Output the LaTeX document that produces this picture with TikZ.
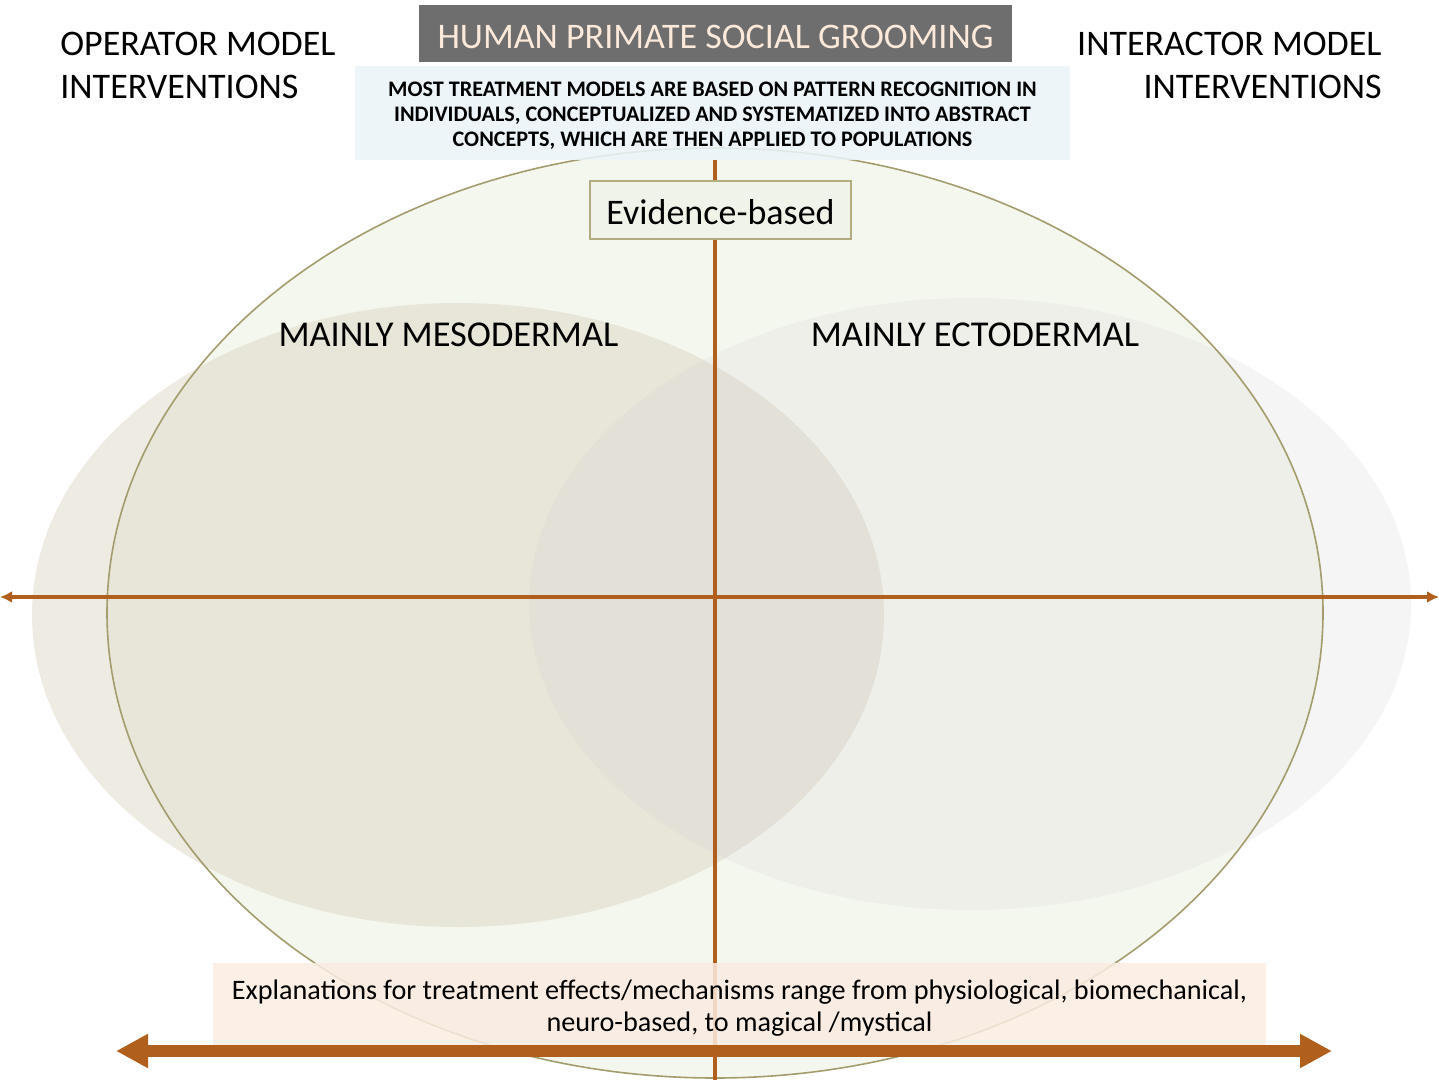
\documentclass[tikz,border=0pt]{standalone}
\usepackage{fontspec}
\setmainfont{Carlito}
\usetikzlibrary{positioning,calc,arrows.meta}

\definecolor{axisbrown}{RGB}{176,96,28}
\definecolor{rimolive}{RGB}{163,157,110}
\definecolor{bigfill}{RGB}{234,239,222}
\definecolor{mesofill}{RGB}{212,205,185}
\definecolor{ectofill}{RGB}{215,215,215}
\definecolor{titlegrey}{RGB}{110,110,110}
\definecolor{titletext}{RGB}{253,233,217}
\definecolor{notefill}{RGB}{234,244,248}
\definecolor{evidfill}{RGB}{240,243,232}
\definecolor{evidrim}{RGB}{176,172,128}
\definecolor{rangefill}{RGB}{251,236,226}

\tikzset{
  axis/.style={draw=axisbrown, line width=1.9pt},
  corner/.style={inner sep=0pt, text height=33.5pt, font=\fontsize{18}{21.5}\selectfont},
  lobe/.style={font=\fontsize{18.2}{21}\selectfont, inner sep=0pt},
}

\begin{document}
\begin{tikzpicture}[x=0.5pt,y=-0.5pt,>={Latex[length=6pt,width=6pt]}]
            \useasboundingbox (0,0) rectangle (1439,1080);

            % the three ellipses
            \fill[bigfill, fill opacity=0.5] (715,613) ellipse [x radius=608, y radius=465];
            \fill[mesofill, fill opacity=0.4] (458,615) ellipse [x radius=426, y radius=312];
            \fill[ectofill, fill opacity=0.25] (970,604) ellipse [x radius=441, y radius=306];
            \draw[rimolive, line width=0.8pt] (715,613) ellipse [x radius=608, y radius=465];

            \coordinate (west) at (0,597);
            \coordinate (east) at (1439,597);
            \coordinate (foot) at (715,1080);
            \coordinate (rangeL) at (116,1051);
            \coordinate (rangeR) at (1332,1051);

            \draw[axis,<->] (west) -- (east);

            % boxes on top
            \node[fill=titlegrey, text=titletext, minimum width=296.5pt, minimum height=28.5pt, inner sep=0pt,
                  text height=15.5pt, text depth=0pt, font=\fontsize{18}{20}\selectfont] (title) at (715.5,33.5)
                  {HUMAN PRIMATE SOCIAL GROOMING};
            \node[fill=notefill, fill opacity=0.88, text opacity=1, minimum width=357.5pt, minimum height=47pt, inner sep=0pt,
                  text height=35pt, text depth=1pt, align=center, font=\bfseries\fontsize{11.1}{12.5}\selectfont] (note) at (712.5,113)
                  {MOST TREATMENT MODELS ARE BASED ON PATTERN RECOGNITION IN\\
                   INDIVIDUALS, CONCEPTUALIZED AND SYSTEMATIZED INTO ABSTRACT\\
                   CONCEPTS, WHICH ARE THEN APPLIED TO POPULATIONS};

            \draw[axis] (note.south -| foot) -- (foot);

            \node[draw=evidrim, line width=0.7pt, fill=evidfill, minimum width=130.5pt, minimum height=29pt, inner sep=0pt,
                  text height=15pt, text depth=0pt, font=\fontsize{18}{21}\selectfont] (evid) at (720.5,210) {Evidence-based};

            \node[corner, align=left, anchor=north west] (operator) at (60,31) {OPERATOR MODEL\\INTERVENTIONS};
            \node[corner, align=right, anchor=north east] (interactor) at (1382,31) {INTERACTOR MODEL\\INTERVENTIONS};

            \node[lobe] (meso) at (448.5,335) {MAINLY MESODERMAL};
            \node[lobe] (ecto) at (975,335) {MAINLY ECTODERMAL};

            \draw[draw=axisbrown, line width=6pt, {Triangle[length=16pt,width=16pt]}-{Triangle[length=16pt,width=16pt]}] (rangeL) -- (rangeR);
            \node[fill=rangefill, fill opacity=0.85, text opacity=1, minimum width=526.5pt, minimum height=41pt, inner sep=0pt,
                  text height=30.5pt, text depth=3.5pt, align=center, font=\fontsize{14.1}{16}\selectfont] (range) at (739.5,1004)
                  {Explanations for treatment effects/mechanisms range from physiological, biomechanical,\\
                   neuro-based, to magical /mystical};
\end{tikzpicture}
\end{document}
